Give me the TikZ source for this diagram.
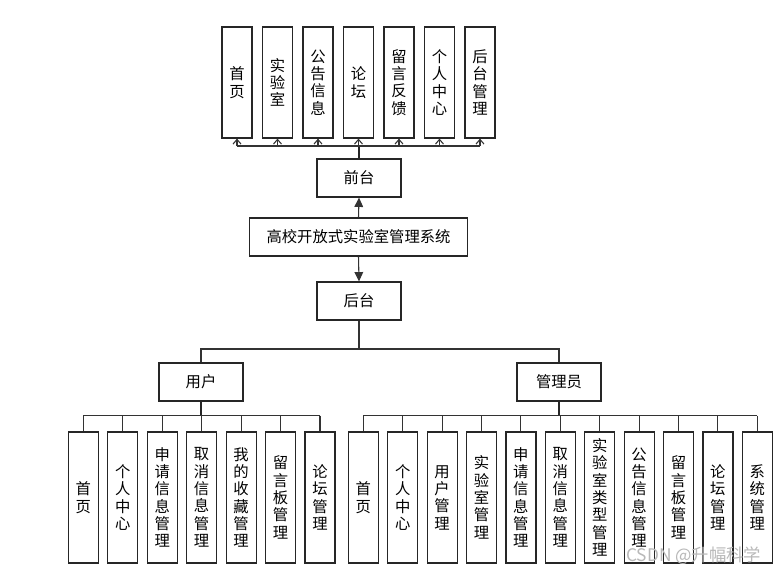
\documentclass[tikz,border=0pt]{standalone}
\usepackage{fontspec}
\setmainfont{Noto Sans CJK SC}
\usetikzlibrary{arrows.meta}
\begin{document}
\begin{tikzpicture}[x=0.75pt,y=-0.75pt,
  box/.style={draw=black!85, line width=0.9pt, fill=white, inner sep=0pt, align=center, font=\fontsize{11.5}{13}\selectfont},
  hbox/.style={box, minimum width=63pt, minimum height=28.5pt},
  mbox/.style={box, minimum width=164pt, minimum height=28.5pt},
  topbox/.style={box, minimum width=22.5pt, minimum height=83.25pt},
  subbox/.style={box, minimum width=22.5pt, minimum height=98.25pt},
  link/.style={draw=black!80, line width=0.8pt},
  stem/.style={draw=black!85, line width=1.3pt},
  openarrow/.style={-{Straight Barb[length=3.5pt,width=6pt]}},
  fullarrow/.style={-{Triangle[length=7pt,width=6.5pt]}},
  mark text/.style={text=black!28, font=\fontsize{13}{15}\selectfont}
]
\useasboundingbox (0,0) rectangle (780,572);
% top level
\node[mbox] (main) at (358.5,237) {高校开放式实验室管理系统};
\node[hbox] (qt) at (359,178) {前台};
\node[hbox] (ht) at (359,301) {后台};
% front-end modules
\node[topbox] (t1) at (237,82.5) {首\\页};
\node[topbox] (t2) at (277.5,82.5) {实\\验\\室};
\node[topbox] (t3) at (318,82.5) {公\\告\\信\\息};
\node[topbox] (t4) at (358.5,82.5) {论\\坛};
\node[topbox] (t5) at (399,82.5) {留\\言\\反\\馈};
\node[topbox] (t6) at (439.5,82.5) {个\\人\\中\\心};
\node[topbox] (t7) at (480,82.5) {后\\台\\管\\理};
\coordinate (tbus) at (358.5,146);
\draw[stem] (qt.north) -- (qt.north |- tbus);
\draw[link] (t1.south |- tbus) -- (t7.south |- tbus);
\foreach \i in {1,...,7}{
  \draw[link,openarrow] (t\i.south |- tbus) -- (t\i.south);
}
\draw[link,fullarrow] (main.north) -- (qt.south);
\draw[link,fullarrow] (main.south) -- (ht.north);
% roles
\node[hbox] (yh) at (201,382) {用户};
\node[hbox] (gl) at (559,382) {管理员};
\coordinate (split) at (359,349);
\draw[link] (ht.south) -- (split);
\draw[link] (yh.north) -- (yh.north |- split) -- (gl.north |- split) -- (gl.north);
% user modules
\node[subbox] (u1) at (83.3,497.5) {首\\页};
\node[subbox] (u2) at (122.75,497.5) {个\\人\\中\\心};
\node[subbox] (u3) at (162.2,497.5) {申\\请\\信\\息\\管\\理};
\node[subbox] (u4) at (201.65,497.5) {取\\消\\信\\息\\管\\理};
\node[subbox] (u5) at (241.1,497.5) {我\\的\\收\\藏\\管\\理};
\node[subbox] (u6) at (280.55,497.5) {留\\言\\板\\管\\理};
\node[subbox] (u7) at (320,497.5) {论\\坛\\管\\理};
\coordinate (ubus) at (201,415.5);
\draw[stem] (yh.south) -- (ubus);
\draw[link] (u1.north |- ubus) -- (u7.north |- ubus);
\foreach \i in {1,...,7}{
  \draw[link] (u\i.north |- ubus) -- (u\i.north);
}
% admin modules
\node[subbox] (a1) at (363.3,497.5) {首\\页};
\node[subbox] (a2) at (402.7,497.5) {个\\人\\中\\心};
\node[subbox] (a3) at (442.1,497.5) {用\\户\\管\\理};
\node[subbox] (a4) at (481.5,497.5) {实\\验\\室\\管\\理};
\node[subbox] (a5) at (520.9,497.5) {申\\请\\信\\息\\管\\理};
\node[subbox] (a6) at (560.3,497.5) {取\\消\\信\\息\\管\\理};
\node[subbox] (a7) at (599.7,497.5) {实\\验\\室\\类\\型\\管\\理};
\node[subbox] (a8) at (639.1,497.5) {公\\告\\信\\息\\管\\理};
\node[subbox] (a9) at (678.5,497.5) {留\\言\\板\\管\\理};
\node[subbox] (a10) at (717.9,497.5) {论\\坛\\管\\理};
\node[subbox] (a11) at (757.3,497.5) {系\\统\\管\\理};
\coordinate (abus) at (559,415.5);
\draw[stem] (gl.south) -- (abus);
\draw[link] (a1.north |- abus) -- (a11.north |- abus);
\foreach \i in {1,...,11}{
  \draw[link] (a\i.north |- abus) -- (a\i.north);
}
% watermark
\node[mark text, anchor=east] (wm) at (766,556) {CSDN @升幅科学};
\end{tikzpicture}
\end{document}
